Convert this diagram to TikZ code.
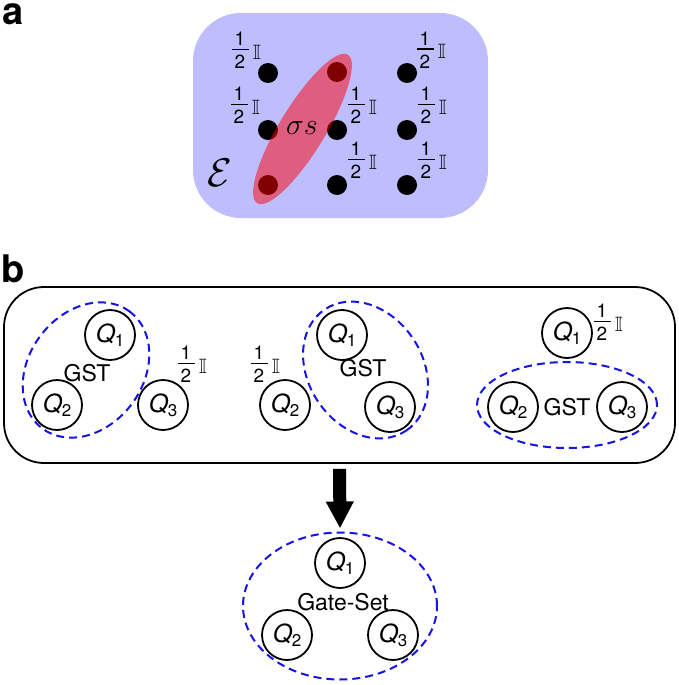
\RequirePackage{fix-cm}
\documentclass[tikz,border=0pt]{standalone}
\usepackage{amsmath,amssymb}
\usepackage{fontspec}
\setmainfont{TeX Gyre Heros}
\usetikzlibrary{shapes.geometric,arrows.meta}
\definecolor{lav}{RGB}{190,190,255}
\definecolor{dblue}{RGB}{20,20,230}
\newcommand\qsub[1]{\textit{Q}\kern-0.5pt\raisebox{-4pt}{\fontsize{17}{17}\selectfont #1}}
\begin{document}
\begin{tikzpicture}[x=1pt,y=-1pt,
  dotS/.style={circle,fill=black,minimum size=20pt,inner sep=0pt},
  digS/.style={inner sep=0pt,font=\fontsize{19}{19}\selectfont},
  bbS/.style={inner sep=0pt,font=\huge},
  halfpic/.pic={
    \node[digS] (-one) at (-6,-12.5) {1};
    \draw[line width=1.5pt] (-14.5,-2) -- (2.5,-2);
    \node[digS] (-two) at (-6,10.5) {2};
    \node[bbS] (-I) at (11,0.5) {$\mathbb{I}$};
  },
  qS/.style={draw,circle,line width=1.8pt,minimum size=50pt,inner sep=0pt,font=\fontsize{25}{30}\selectfont},
  gstS/.style={draw=dblue,dash pattern=on 8pt off 5pt,line width=2pt,ellipse,inner sep=0pt},
  txtS/.style={inner sep=0pt,font=\fontsize{23}{27}\selectfont},
  panelS/.style={inner sep=0pt,font=\fontsize{38}{40}\selectfont\bfseries}]
\useasboundingbox (0,0) rectangle (678,685);
% ---------- panel a
\node[panelS] (la) at (13,14) {a};
\fill[lav,rounded corners=48pt] (193,13) rectangle (488,218);
\node[dotS] (d11) at (268,73) {};
\node[dotS] (d12) at (337,72) {};
\node[dotS] (d13) at (407,73) {};
\node[dotS] (d21) at (268,130) {};
\node[dotS] (d22) at (337,130) {};
\node[dotS] (d23) at (407,130) {};
\node[dotS] (d31) at (268,185) {};
\node[dotS] (d32) at (337,185) {};
\node[dotS] (d33) at (407,185) {};
\begin{scope}[shift={(302.5,129)},rotate=58.6]
  \fill[red,fill opacity=0.5] (0,0) ellipse [x radius=87pt,y radius=23pt];
\end{scope}
\pic (h11) at (246,51.5) {halfpic};
\pic (h13) at (431,51) {halfpic};
\pic (h21) at (245,106.5) {halfpic};
\pic (h22) at (362,106.5) {halfpic};
\pic (h23) at (432,106.5) {halfpic};
\pic (h32) at (362,161.5) {halfpic};
\pic (h33) at (432,161.5) {halfpic};
\node[inner sep=0pt,font=\fontsize{30}{32}\selectfont] (sig) at (302,128) {$\sigma s$};
\node[inner sep=0pt,font=\fontsize{40}{42}\selectfont] (eps) at (220,173) {$\mathcal{E}$};
% ---------- panel b
\node[panelS] (lb) at (13,269) {b};
\node[draw,line width=1.8pt,rounded corners=40pt,minimum width=671pt,minimum height=176pt,inner sep=0pt] (boxb) at (339.5,375) {};
% group 1
\node[gstS,rotate=53,minimum width=146pt,minimum height=114pt] (e1) at (86,370) {};
\node[qS] (q1a) at (110,335) {\qsub{1}};
\node[qS] (q2a) at (57,405) {\qsub{2}};
\node[qS] (q3a) at (163,405) {\qsub{3}};
\node[txtS] (g1) at (87,373) {GST};
\pic (hb1) at (192,365.5) {halfpic};
% group 2
\node[gstS,rotate=-56,minimum width=146pt,minimum height=114pt] (e2) at (365.5,370) {};
\node[qS] (q2b) at (285,405) {\qsub{2}};
\node[qS] (q1b) at (342,335) {\qsub{1}};
\node[qS] (q3b) at (390,407) {\qsub{3}};
\node[txtS] (g2) at (363,368) {GST};
\pic (hb2) at (265,365.5) {halfpic};
% group 3
\node[gstS,minimum width=180pt,minimum height=86pt] (e3) at (567,405) {};
\node[qS] (q1c) at (567,333) {\qsub{1}};
\node[qS] (q2c) at (513,407) {\qsub{2}};
\node[qS] (q3c) at (622,407) {\qsub{3}};
\node[txtS] (g3) at (567,407) {GST};
\pic (hb3) at (608,323.5) {halfpic};
% result
\node[gstS,minimum width=194pt,minimum height=147pt] (gs) at (340,606) {};
\node[qS] (q1d) at (340,563) {\qsub{1}};
\node[qS] (q2d) at (287,635) {\qsub{2}};
\node[qS] (q3d) at (393,635) {\qsub{3}};
\node[txtS] (g4) at (343,602) {Gate-Set};
\draw[line width=13pt,-{Triangle[length=27pt,width=26pt]}] ([yshift=-5pt]boxb.south) -- ([yshift=3pt]gs.north);
\end{tikzpicture}
\end{document}
